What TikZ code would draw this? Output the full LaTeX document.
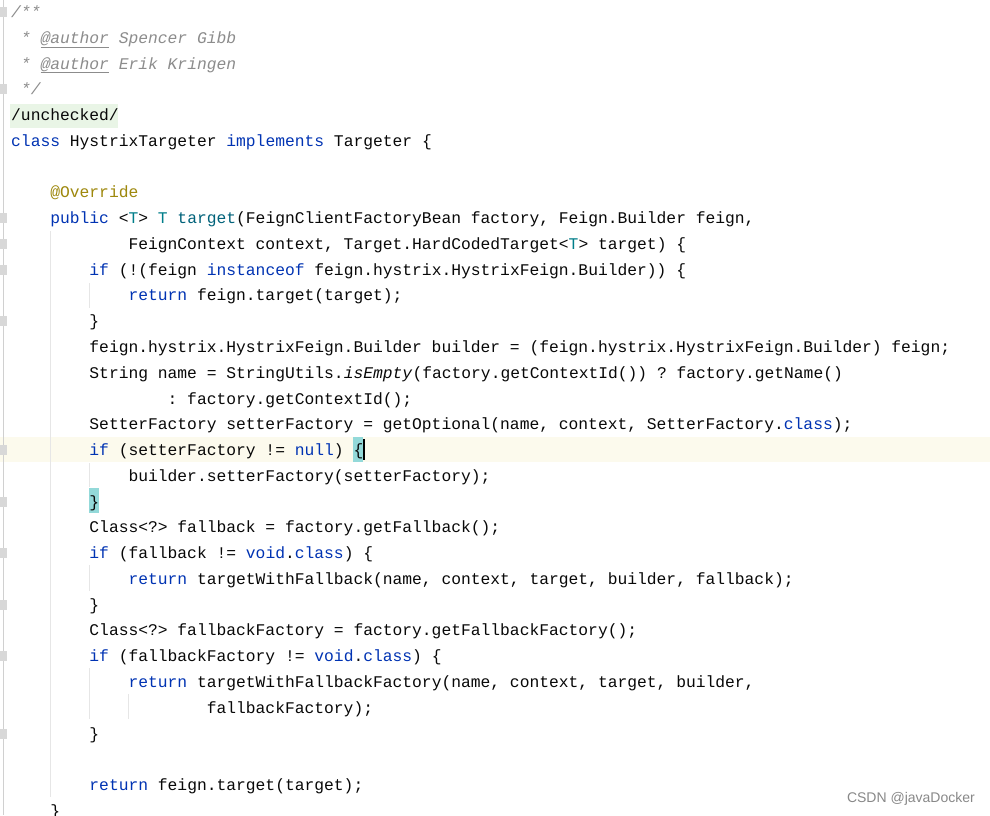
\documentclass[tikz,border=0pt]{standalone}
\usepackage{fontspec}
\setmonofont{Liberation Mono}
\setsansfont{Liberation Sans}
\definecolor{kw}{HTML}{0033B3}
\definecolor{cm}{HTML}{8C8C8C}
\definecolor{an}{HTML}{9E880D}
\definecolor{fn}{HTML}{00627A}
\definecolor{tp}{HTML}{007E8A}
\definecolor{tx}{HTML}{080808}
\definecolor{guide}{HTML}{E6E6E6}
\definecolor{curline}{HTML}{FCFAED}
\definecolor{uncbg}{HTML}{E9F5E6}
\definecolor{brace}{HTML}{93D9D9}
\definecolor{gutter}{HTML}{D0D0D0}
\definecolor{fold}{HTML}{D8D8D8}
\definecolor{wmark}{HTML}{888888}
\newcommand\kw[1]{\textcolor{kw}{#1}}
\newcommand\cmt[1]{\textcolor{cm}{\itshape #1}}
\newcommand\an[1]{\textcolor{an}{#1}}
\newcommand\fnn[1]{\textcolor{fn}{#1}}
\newcommand\tpp[1]{\textcolor{tp}{#1}}
\newcommand\cl[3]{\node[code] (l#1) at ({11+9.78*#2}, {-(12+25.77*(#1-1))-5.5}) {#3};}
\tikzset{code/.style={anchor=base west, inner sep=0pt, text=tx, font=\ttfamily\fontsize{16.3}{20}\selectfont}}
\begin{document}
\begin{tikzpicture}[x=1pt,y=1pt]
\useasboundingbox[fill=white] (0,0) rectangle (990,-815);
\fill[curline] (0,-437) rectangle (990,-462);
\fill[uncbg] (10,-104) rectangle (118,-128);
\fill[brace] (353,-437) rectangle (363,-462);
\fill[brace] (89,-488) rectangle (99,-513);
\draw[black,line width=1.2pt] (364,-439) -- (364,-460);
\draw[gutter] (3,0) -- (3,-815);
\draw[guide] (50,-231) -- (50,-797);
\draw[guide] (89,-283) -- (89,-308);
\draw[guide] (89,-463) -- (89,-487);
\draw[guide] (89,-565) -- (89,-591);
\draw[guide] (89,-668) -- (89,-719);
\draw[guide] (128,-694) -- (128,-719);
\foreach \r in {1,4,9,10,11,13,18,20,22,24,26,29}{
  \fill[fold] ({0},{-(12+25.77*(\r-1))-5}) rectangle (7,{-(12+25.77*(\r-1))+5});
}
\cl{1}{0}{\cmt{/**}}
\cl{2}{1}{\cmt{* \underline{@author} Spencer Gibb}}
\cl{3}{1}{\cmt{* \underline{@author} Erik Kringen}}
\cl{4}{1}{\cmt{*/}}
\cl{5}{0}{/unchecked/}
\cl{6}{0}{\kw{class} HystrixTargeter \kw{implements} Targeter \{}
\cl{8}{4}{\an{@Override}}
\cl{9}{4}{\kw{public} <\tpp{T}> \tpp{T} \fnn{target}(FeignClientFactoryBean factory, Feign.Builder feign,}
\cl{10}{12}{FeignContext context, Target.HardCodedTarget<\tpp{T}> target) \{}
\cl{11}{8}{\kw{if} (!(feign \kw{instanceof} feign.hystrix.HystrixFeign.Builder)) \{}
\cl{12}{12}{\kw{return} feign.target(target);}
\cl{13}{8}{\}}
\cl{14}{8}{feign.hystrix.HystrixFeign.Builder builder = (feign.hystrix.HystrixFeign.Builder) feign;}
\cl{15}{8}{String name = StringUtils.\textit{isEmpty}(factory.getContextId()) ? factory.getName()}
\cl{16}{16}{: factory.getContextId();}
\cl{17}{8}{SetterFactory setterFactory = getOptional(name, context, SetterFactory.\kw{class});}
\cl{18}{8}{\kw{if} (setterFactory != \kw{null}) \{}
\cl{19}{12}{builder.setterFactory(setterFactory);}
\cl{20}{8}{\}}
\cl{21}{8}{Class<?> fallback = factory.getFallback();}
\cl{22}{8}{\kw{if} (fallback != \kw{void}.\kw{class}) \{}
\cl{23}{12}{\kw{return} targetWithFallback(name, context, target, builder, fallback);}
\cl{24}{8}{\}}
\cl{25}{8}{Class<?> fallbackFactory = factory.getFallbackFactory();}
\cl{26}{8}{\kw{if} (fallbackFactory != \kw{void}.\kw{class}) \{}
\cl{27}{12}{\kw{return} targetWithFallbackFactory(name, context, target, builder,}
\cl{28}{20}{fallbackFactory);}
\cl{29}{8}{\}}
\cl{31}{8}{\kw{return} feign.target(target);}
\cl{32}{4}{\}}
\node[anchor=base east, inner sep=0pt, text=wmark, font=\sffamily\fontsize{14}{16}\selectfont] (wm) at (975,-802) {CSDN @javaDocker};
\end{tikzpicture}
\end{document}
